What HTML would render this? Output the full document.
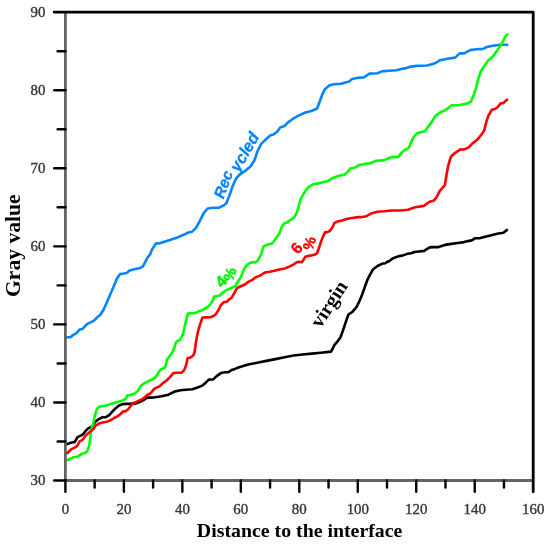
<!DOCTYPE html>
<html><head><meta charset="utf-8"><style>
html,body{margin:0;padding:0;background:#fff;}
svg{display:block;}
</style></head><body>
<svg width="550" height="544" viewBox="0 0 550 544">
<rect width="550" height="544" fill="#fff"/>
<polyline points="65.8,337.4 66.9,337.3 70.2,337.3 73.1,335.1 76.7,332.9 79.6,329.6 82.5,328.9 85.5,325.6 87.6,323.8 90.5,322.4 93.5,320.9 95.6,319.1 97.1,317.3 100.0,315.3 103.4,310.0 106.9,302.2 110.5,293.8 114.1,285.5 117.1,278.3 120.1,274.1 123.7,273.5 126.7,272.9 129.6,270.5 134.4,269.3 140.4,267.9 142.8,266.4 145.2,262.2 147.6,257.4 150.0,254.6 152.0,249.5 155.8,243.6 160.5,243.0 165.1,241.4 171.3,239.4 177.5,237.4 183.6,234.8 188.3,232.5 192.1,231.7 196.0,227.8 199.9,220.9 203.7,213.1 207.6,208.5 213.0,207.7 219.2,207.7 223.8,205.4 226.5,203.0 229.4,195.6 232.4,186.8 236.0,178.7 239.7,174.3 245.6,170.6 250.7,166.2 254.4,160.3 257.4,151.5 261.0,144.1 266.2,139.0 270.6,135.3 273.5,134.6 277.9,130.9 280.0,127.6 284.4,126.0 288.0,122.4 293.1,118.7 298.9,115.4 305.5,112.5 311.3,111.0 317.1,108.5 319.3,102.7 322.2,94.7 325.1,88.9 329.5,85.3 335.3,84.1 341.1,83.8 345.5,82.4 349.1,81.6 352.0,79.0 355.6,78.3 360.0,77.6 363.6,77.5 369.5,73.6 377.5,73.2 381.8,71.4 389.1,70.7 396.4,70.3 402.2,68.8 406.5,68.1 410.9,66.6 416.7,65.9 426.9,65.5 432.7,64.0 435.6,63.0 440.0,60.2 447.5,58.7 455.1,57.6 459.6,53.4 464.1,53.4 470.2,50.1 476.2,49.3 483.0,48.9 486.8,47.0 492.8,45.8 500.3,44.8 507.3,44.7" fill="none" stroke="#0584ff" stroke-width="2.6" stroke-linejoin="round" stroke-linecap="round"/>
<polyline points="65.8,445.0 67.4,444.0 70.1,443.0 72.8,442.3 74.5,442.3 75.9,440.0 77.6,437.2 79.6,436.2 81.7,435.2 83.7,433.5 85.8,430.8 87.8,428.7 89.9,427.7 91.9,426.4 95.3,421.7 98.5,419.3 102.6,417.2 105.9,417.2 109.2,415.2 112.5,411.5 115.7,408.2 119.0,405.4 123.1,404.1 127.2,403.7 130.5,403.9 133.7,402.9 135.0,403.7 140.5,401.5 143.8,399.8 146.6,397.9 148.2,397.6 151.5,397.6 154.9,397.3 158.2,396.8 161.5,396.2 165.0,395.4 167.6,395.0 170.5,393.6 173.5,392.1 175.0,391.6 180.5,390.3 185.9,389.7 192.4,389.2 196.8,387.8 202.3,385.6 205.5,382.9 208.8,379.6 213.2,379.4 216.4,376.4 220.8,373.1 225.2,372.2 228.4,372.2 231.7,370.0 235.0,368.9 239.1,367.3 248.2,364.5 257.3,362.7 266.4,360.9 275.5,359.1 284.5,357.3 293.6,355.5 302.7,354.5 311.8,353.6 320.9,352.7 331.0,351.6 332.7,348.5 334.3,345.2 337.6,341.3 340.4,337.5 342.0,333.1 344.3,326.5 346.5,319.8 348.5,314.5 352.6,311.7 356.6,306.9 359.3,301.4 362.1,294.7 364.8,287.0 367.6,279.3 370.4,273.8 373.1,269.3 377.5,266.0 381.9,263.8 385.3,263.3 387.5,261.6 388.3,261.8 392.6,258.5 395.9,257.2 399.2,256.1 402.4,255.6 407.9,253.6 411.2,253.3 414.4,252.0 418.8,251.5 424.3,250.9 426.4,249.3 429.7,247.4 433.0,247.1 438.4,247.1 441.7,246.0 445.0,244.9 451.4,243.9 457.7,243.0 464.1,242.1 467.9,241.1 471.7,240.4 474.9,238.3 479.4,238.3 483.2,237.3 488.3,236.0 493.3,234.7 498.4,233.5 503.5,232.8 506.9,229.9" fill="none" stroke="#000000" stroke-width="2.6" stroke-linejoin="round" stroke-linecap="round"/>
<polyline points="65.8,460.2 67.7,459.7 70.8,458.7 74.2,457.0 76.9,457.0 79.6,455.3 82.4,453.6 85.1,452.9 87.1,451.2 88.5,448.1 89.5,444.0 90.2,438.6 90.9,433.2 91.6,428.4 92.6,425.0 92.8,425.8 94.5,417.6 96.1,411.1 98.1,407.4 101.0,406.2 105.1,405.8 109.2,404.5 113.3,403.3 117.4,402.1 121.5,400.9 124.3,399.6 126.4,398.0 127.2,395.3 130.4,395.0 134.3,393.8 135.0,393.2 137.8,391.0 139.4,388.2 141.1,385.8 143.8,383.5 147.1,381.9 150.4,380.2 153.2,378.9 155.9,376.8 158.7,371.8 161.4,369.0 164.7,368.1 166.0,364.4 166.9,359.8 169.7,356.1 172.5,352.0 174.3,347.9 175.7,342.8 177.5,341.0 179.8,340.1 180.4,338.9 182.9,334.7 184.5,327.3 186.2,319.9 187.9,313.6 190.8,313.2 194.5,313.2 198.2,311.6 201.9,310.3 204.8,308.7 208.1,306.6 210.6,304.1 212.7,300.8 214.1,296.8 215.0,296.6 219.9,295.6 222.6,292.6 225.9,290.5 229.2,288.9 233.0,287.3 235.7,285.9 236.8,283.2 238.2,281.2 240.4,277.9 242.1,274.1 243.7,269.7 245.9,266.3 248.7,263.6 252.0,262.2 254.8,262.5 257.0,261.4 258.6,259.2 260.3,255.9 261.9,252.6 262.4,249.5 263.9,246.1 267.4,244.8 272.4,243.3 274.3,240.8 276.8,237.0 279.3,233.9 280.5,230.1 282.4,225.8 284.3,223.3 286.8,222.6 290.4,220.0 294.3,217.4 296.9,212.3 298.8,205.8 300.7,198.8 303.3,194.3 305.8,190.4 308.4,187.2 313.6,184.0 318.7,183.4 325.0,181.6 327.6,181.2 332.7,178.0 337.8,176.1 344.2,174.8 347.4,172.3 350.5,168.4 354.4,167.8 359.4,165.0 364.5,164.0 370.9,163.1 376.0,160.8 382.3,160.4 385.0,159.7 392.2,156.8 398.1,157.1 401.7,152.6 405.3,149.6 408.9,147.8 411.3,141.8 413.7,137.0 416.7,133.5 420.8,132.3 425.0,131.1 428.0,126.9 431.6,122.1 435.2,116.1 440.0,112.5 445.0,110.4 451.3,105.4 459.6,105.0 467.1,103.6 470.9,101.6 473.9,94.9 476.2,87.3 478.5,78.3 480.7,71.5 483.7,67.0 488.3,60.2 492.8,56.4 497.3,50.4 501.8,43.6 504.9,37.5 507.3,34.3" fill="none" stroke="#00ff00" stroke-width="2.6" stroke-linejoin="round" stroke-linecap="round"/>
<polyline points="65.8,453.6 67.7,452.9 69.4,450.9 71.5,449.1 74.2,447.8 76.6,446.4 78.3,444.0 79.6,441.3 81.7,440.3 83.7,438.6 85.1,436.2 87.1,434.2 89.2,432.5 91.2,430.8 94.0,428.4 95.3,425.8 98.5,423.8 102.6,422.5 106.7,421.7 110.8,420.1 114.1,418.0 117.4,416.4 120.6,414.0 123.1,411.5 125.6,411.1 128.0,409.5 130.5,406.2 132.9,403.7 135.0,402.6 138.3,400.9 142.2,399.3 144.9,397.1 147.7,394.6 149.6,394.0 151.5,392.1 153.8,389.3 156.0,387.7 158.2,387.1 160.4,385.5 162.6,383.3 165.0,381.6 166.0,381.0 169.7,377.3 173.4,373.1 177.1,372.7 181.7,372.7 184.4,369.9 186.3,364.4 187.6,358.3 190.1,357.7 192.9,355.8 194.3,353.5 195.2,348.0 195.7,343.8 197.0,336.4 198.2,330.6 199.9,324.8 202.3,317.8 204.8,317.4 208.1,317.4 211.4,317.0 213.9,315.7 215.9,314.1 218.2,310.5 220.9,305.0 223.6,302.3 227.3,301.4 228.1,300.2 231.4,297.9 234.1,293.5 235.7,290.3 237.4,287.8 240.1,286.5 245.0,284.5 248.7,281.6 252.5,279.8 255.3,277.5 258.1,276.4 260.8,275.3 263.6,273.3 266.0,272.2 269.9,271.7 274.5,270.8 279.1,269.6 285.0,268.4 289.1,266.7 293.3,264.7 296.6,262.2 299.0,261.8 301.9,262.2 303.6,259.7 305.2,256.8 308.1,256.0 311.4,255.4 314.3,254.8 316.8,253.5 318.1,250.6 319.7,245.7 321.4,240.7 323.0,236.6 325.0,232.4 327.0,232.3 330.2,230.5 332.5,227.3 334.3,223.2 337.5,221.4 342.0,220.5 346.5,219.1 352.0,218.0 358.4,217.1 362.0,217.1 366.5,216.2 369.3,214.5 372.0,213.2 377.3,211.7 384.5,211.3 391.8,210.5 400.5,210.5 407.8,209.8 415.1,207.3 423.8,205.9 429.6,201.8 434.0,200.4 436.9,196.7 439.8,190.9 444.9,185.1 446.6,174.2 448.3,165.3 451.0,156.5 455.5,152.6 460.4,149.3 463.7,149.6 468.7,147.4 472.0,143.8 477.5,139.4 480.8,135.5 484.2,130.6 486.5,121.1 488.5,115.5 491.8,109.8 495.0,109.0 497.8,107.0 500.7,103.3 503.1,103.3 505.1,101.3 507.1,99.7" fill="none" stroke="#ff0000" stroke-width="2.6" stroke-linejoin="round" stroke-linecap="round"/>
<line x1="65.4" y1="12.2" x2="65.4" y2="480.5" stroke="#646464" stroke-width="2.8"/>
<line x1="65.4" y1="480.5" x2="533.2" y2="480.5" stroke="#646464" stroke-width="2.8"/>
<polyline points="54.2,12.2 533.2,12.2 533.2,491.8" fill="none" stroke="#000" stroke-width="2.8" stroke-linejoin="round" stroke-linecap="round"/>
<line x1="54.2" y1="480.50" x2="65.4" y2="480.50" stroke="#000" stroke-width="2.4" stroke-linecap="round"/>
<line x1="57.7" y1="441.48" x2="65.4" y2="441.48" stroke="#000" stroke-width="2.4" stroke-linecap="round"/>
<line x1="54.2" y1="402.45" x2="65.4" y2="402.45" stroke="#000" stroke-width="2.4" stroke-linecap="round"/>
<line x1="57.7" y1="363.43" x2="65.4" y2="363.43" stroke="#000" stroke-width="2.4" stroke-linecap="round"/>
<line x1="54.2" y1="324.40" x2="65.4" y2="324.40" stroke="#000" stroke-width="2.4" stroke-linecap="round"/>
<line x1="57.7" y1="285.38" x2="65.4" y2="285.38" stroke="#000" stroke-width="2.4" stroke-linecap="round"/>
<line x1="54.2" y1="246.35" x2="65.4" y2="246.35" stroke="#000" stroke-width="2.4" stroke-linecap="round"/>
<line x1="57.7" y1="207.32" x2="65.4" y2="207.32" stroke="#000" stroke-width="2.4" stroke-linecap="round"/>
<line x1="54.2" y1="168.30" x2="65.4" y2="168.30" stroke="#000" stroke-width="2.4" stroke-linecap="round"/>
<line x1="57.7" y1="129.27" x2="65.4" y2="129.27" stroke="#000" stroke-width="2.4" stroke-linecap="round"/>
<line x1="54.2" y1="90.25" x2="65.4" y2="90.25" stroke="#000" stroke-width="2.4" stroke-linecap="round"/>
<line x1="57.7" y1="51.23" x2="65.4" y2="51.23" stroke="#000" stroke-width="2.4" stroke-linecap="round"/>
<line x1="65.40" y1="480.5" x2="65.40" y2="491.8" stroke="#000" stroke-width="2.4" stroke-linecap="round"/>
<line x1="94.64" y1="480.5" x2="94.64" y2="487.6" stroke="#000" stroke-width="2.4" stroke-linecap="round"/>
<line x1="123.88" y1="480.5" x2="123.88" y2="491.8" stroke="#000" stroke-width="2.4" stroke-linecap="round"/>
<line x1="153.11" y1="480.5" x2="153.11" y2="487.6" stroke="#000" stroke-width="2.4" stroke-linecap="round"/>
<line x1="182.35" y1="480.5" x2="182.35" y2="491.8" stroke="#000" stroke-width="2.4" stroke-linecap="round"/>
<line x1="211.59" y1="480.5" x2="211.59" y2="487.6" stroke="#000" stroke-width="2.4" stroke-linecap="round"/>
<line x1="240.83" y1="480.5" x2="240.83" y2="491.8" stroke="#000" stroke-width="2.4" stroke-linecap="round"/>
<line x1="270.06" y1="480.5" x2="270.06" y2="487.6" stroke="#000" stroke-width="2.4" stroke-linecap="round"/>
<line x1="299.30" y1="480.5" x2="299.30" y2="491.8" stroke="#000" stroke-width="2.4" stroke-linecap="round"/>
<line x1="328.54" y1="480.5" x2="328.54" y2="487.6" stroke="#000" stroke-width="2.4" stroke-linecap="round"/>
<line x1="357.78" y1="480.5" x2="357.78" y2="491.8" stroke="#000" stroke-width="2.4" stroke-linecap="round"/>
<line x1="387.01" y1="480.5" x2="387.01" y2="487.6" stroke="#000" stroke-width="2.4" stroke-linecap="round"/>
<line x1="416.25" y1="480.5" x2="416.25" y2="491.8" stroke="#000" stroke-width="2.4" stroke-linecap="round"/>
<line x1="445.49" y1="480.5" x2="445.49" y2="487.6" stroke="#000" stroke-width="2.4" stroke-linecap="round"/>
<line x1="474.73" y1="480.5" x2="474.73" y2="491.8" stroke="#000" stroke-width="2.4" stroke-linecap="round"/>
<line x1="503.96" y1="480.5" x2="503.96" y2="487.6" stroke="#000" stroke-width="2.4" stroke-linecap="round"/>
<text x="45.5" y="484.9" text-anchor="end" font-family="Liberation Serif, serif" font-size="14.9" fill="#333" stroke="#333" stroke-width="0.35">30</text>
<text x="45.5" y="406.8" text-anchor="end" font-family="Liberation Serif, serif" font-size="14.9" fill="#333" stroke="#333" stroke-width="0.35">40</text>
<text x="45.5" y="328.8" text-anchor="end" font-family="Liberation Serif, serif" font-size="14.9" fill="#333" stroke="#333" stroke-width="0.35">50</text>
<text x="45.5" y="250.8" text-anchor="end" font-family="Liberation Serif, serif" font-size="14.9" fill="#333" stroke="#333" stroke-width="0.35">60</text>
<text x="45.5" y="172.7" text-anchor="end" font-family="Liberation Serif, serif" font-size="14.9" fill="#333" stroke="#333" stroke-width="0.35">70</text>
<text x="45.5" y="94.7" text-anchor="end" font-family="Liberation Serif, serif" font-size="14.9" fill="#333" stroke="#333" stroke-width="0.35">80</text>
<text x="45.5" y="16.6" text-anchor="end" font-family="Liberation Serif, serif" font-size="14.9" fill="#333" stroke="#333" stroke-width="0.35">90</text>
<text x="65.4" y="514" text-anchor="middle" font-family="Liberation Serif, serif" font-size="14.9" fill="#333" stroke="#333" stroke-width="0.35">0</text>
<text x="123.9" y="514" text-anchor="middle" font-family="Liberation Serif, serif" font-size="14.9" fill="#333" stroke="#333" stroke-width="0.35">20</text>
<text x="182.4" y="514" text-anchor="middle" font-family="Liberation Serif, serif" font-size="14.9" fill="#333" stroke="#333" stroke-width="0.35">40</text>
<text x="240.8" y="514" text-anchor="middle" font-family="Liberation Serif, serif" font-size="14.9" fill="#333" stroke="#333" stroke-width="0.35">60</text>
<text x="299.3" y="514" text-anchor="middle" font-family="Liberation Serif, serif" font-size="14.9" fill="#333" stroke="#333" stroke-width="0.35">80</text>
<text x="357.8" y="514" text-anchor="middle" font-family="Liberation Serif, serif" font-size="14.9" fill="#333" stroke="#333" stroke-width="0.35">100</text>
<text x="416.2" y="514" text-anchor="middle" font-family="Liberation Serif, serif" font-size="14.9" fill="#333" stroke="#333" stroke-width="0.35">120</text>
<text x="474.7" y="514" text-anchor="middle" font-family="Liberation Serif, serif" font-size="14.9" fill="#333" stroke="#333" stroke-width="0.35">140</text>
<text x="533.2" y="514" text-anchor="middle" font-family="Liberation Serif, serif" font-size="14.9" fill="#333" stroke="#333" stroke-width="0.35">160</text>
<text x="0" y="0" transform="translate(20,245.7) rotate(-90)" text-anchor="middle" textLength="102.5" lengthAdjust="spacingAndGlyphs" font-family="Liberation Serif, serif" font-weight="bold" font-size="20.3" fill="#000">Gray value</text>
<text x="299.6" y="537" text-anchor="middle" font-family="Liberation Serif, serif" font-weight="bold" font-size="19.85" fill="#000">Distance to the interface</text>
<text transform="translate(223.5,199.5) rotate(-70)" font-size="15.5" font-family="Liberation Sans, sans-serif" font-weight="bold" font-style="italic" fill="#0584ff" stroke="#0584ff" stroke-width="0.25">Rec</text>
<text transform="translate(238.8,173) rotate(-60)" font-size="16.5" font-family="Liberation Sans, sans-serif" font-weight="bold" font-style="italic" fill="#0584ff" stroke="#0584ff" stroke-width="0.25">ycled</text>
<text transform="translate(221.0,281.5) rotate(-45) " font-family="Liberation Sans, sans-serif" font-weight="bold" text-anchor="middle" dominant-baseline="central" font-size="16" fill="#00f000" stroke="#00f000" stroke-width="0.4">4</text>
<text transform="translate(229.5,274.2) rotate(-72) " font-family="Liberation Sans, sans-serif" font-weight="bold" text-anchor="middle" dominant-baseline="central" font-size="15" fill="#00f000" stroke="#00f000" stroke-width="0.4">%</text>
<text transform="translate(296.6,248) rotate(-50) " font-family="Liberation Sans, sans-serif" font-weight="bold" text-anchor="middle" dominant-baseline="central" font-size="16" fill="#ff0000" stroke="#ff0000" stroke-width="0.4">6</text>
<text transform="translate(309.0,243.2) rotate(-72) " font-family="Liberation Sans, sans-serif" font-weight="bold" text-anchor="middle" dominant-baseline="central" font-size="15" fill="#ff0000" stroke="#ff0000" stroke-width="0.4">%</text>
<text transform="translate(320.5,329) rotate(-57)" font-family="Liberation Serif, serif" font-weight="bold" font-size="20" fill="#000">virgin</text>
</svg>
</body></html>
